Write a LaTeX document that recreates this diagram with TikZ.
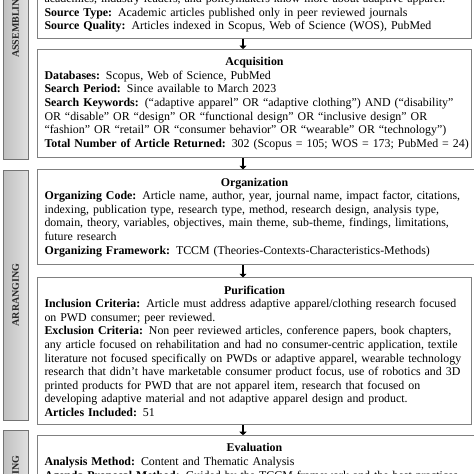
\documentclass[tikz,border=0pt]{standalone}
\usepackage{fontspec}
\setmainfont{Liberation Serif}
\usetikzlibrary{positioning,arrows.meta}

\newcommand{\boxtitle}[1]{\makebox[420pt]{\textbf{#1}}}

\begin{document}
\begin{tikzpicture}[x=1pt,y=1pt,
    every node/.append style={font=\fontsize{11.9}{13.6}\selectfont},
    stage/.style={draw=black!50,line width=1pt,fill=white,inner xsep=7pt,inner ysep=8pt,
      align=left,text width=420pt},
    phase/.style={draw=black!55,line width=0.8pt,left color=black!25,right color=black!12,
      rotate=90,minimum height=25pt,font=\bfseries\fontsize{10}{12}\selectfont,text=black!85},
    flow/.style={-{Triangle[length=3.5pt,width=7pt]},line width=2.4pt}]
  \useasboundingbox (0,0) rectangle (474,-474);
  \clip (0,0) rectangle (474,-474);
  \coordinate (spine) at (243,0);

  % phases on the left
  \node[phase,minimum width=269pt] (assembling) at (15.5,-24.5) {ASSEMBLING};
  \node[phase,minimum width=250pt] (arranging) at (15.5,-295) {ARRANGING};
  \node[phase,minimum width=106pt] (assessing) at (15.5,-483) {ASSESSING};

  % stages
  \node[stage,inner ysep=6pt,anchor=south west] (identification) at (37,-39) {
    academics, industry leaders, and policymakers know more about adaptive apparel.\\
    \textbf{Source Type:} Academic articles published only in peer reviewed journals\\
    \textbf{Source Quality:} Articles indexed in Scopus, Web of Science (WOS), PubMed};
  \node[stage,anchor=north west] (acquisition) at (37,-49) {
    \boxtitle{Acquisition}\\
    \textbf{Databases:} Scopus, Web of Science, PubMed\\
    \textbf{Search Period:} Since available to March 2023\\
    \textbf{Search Keywords:} (``adaptive apparel'' OR ``adaptive clothing'') AND (``disability''\\
    OR ``disable'' OR ``design'' OR ``functional design'' OR ``inclusive design'' OR\\
    ``fashion'' OR ``retail'' OR ``consumer behavior'' OR ``wearable'' OR ``technology'')\\
    \mbox{\textbf{Total Number of Article Returned:} 302 (Scopus = 105; WOS = 173; PubMed = 24)}};
  \node[stage,text width=440pt,below=11pt of acquisition.south west,anchor=north west] (organization) {
    \boxtitle{Organization}\\
    \textbf{Organizing Code:} Article name, author, year, journal name, impact factor, citations,\\
    indexing, publication type, research type, method, research design, analysis type,\\
    domain, theory, variables, objectives, main theme, sub-theme, findings, limitations,\\
    future research\\
    \textbf{Organizing Framework:} TCCM (Theories-Contexts-Characteristics-Methods)};
  \node[stage,below=12pt of organization.south west,anchor=north west] (purification) {
    \boxtitle{Purification}\\
    \textbf{Inclusion Criteria:} Article must address adaptive apparel/clothing research focused\\
    on PWD consumer; peer reviewed.\\
    \textbf{Exclusion Criteria:} Non peer reviewed articles, conference papers, book chapters,\\
    any article focused on rehabilitation and had no consumer-centric application, textile\\
    literature not focused specifically on PWDs or adaptive apparel, wearable technology\\
    research that didn't have marketable consumer product focus, use of robotics and 3D\\
    printed products for PWD that are not apparel item, research that focused on\\
    developing adaptive material and not adaptive apparel design and product.\\
    \textbf{Articles Included:} 51};
  \node[stage,text width=440pt,text depth=40pt,below=10pt of purification.south west,anchor=north west] (evaluation) {
    \boxtitle{Evaluation}\\
    \textbf{Analysis Method:} Content and Thematic Analysis\\
    \textbf{Agenda Proposal Method:} Guided by the TCCM framework and the best practices};

  % arrows between stages
  \draw[flow] (identification.south -| spine) -- (acquisition.north -| spine);
  \draw[flow] (acquisition.south -| spine) -- (organization.north -| spine);
  \draw[flow] (organization.south -| spine) -- (purification.north -| spine);
  \draw[flow] (purification.south -| spine) -- (evaluation.north -| spine);
\end{tikzpicture}
\end{document}
